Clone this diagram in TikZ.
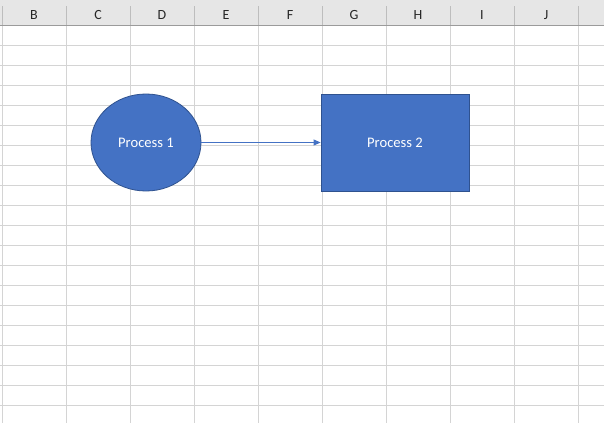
\documentclass[tikz,border=0pt]{standalone}
\usepackage{fontspec}
\setmainfont{Carlito}
\usetikzlibrary{arrows.meta,shapes.geometric}
\definecolor{gridc}{HTML}{D4D4D4}
\definecolor{hdrbg}{HTML}{E6E6E6}
\definecolor{hdrsep}{HTML}{BDBDBD}
\definecolor{hdrline}{HTML}{9B9B9B}
\definecolor{shapefill}{HTML}{4472C4}
\definecolor{shapeline}{HTML}{2F528F}
\tikzset{
  gridline/.style={draw=gridc, line width=1pt},
  hdrtext/.style={font=\fontsize{14}{16}\selectfont, text=black!85},
  procshape/.style={fill=shapefill, draw=shapeline, line width=0.8pt, text=white,
    font=\fontsize{14.6}{17}\selectfont, inner sep=0pt},
  conn/.style={draw=shapefill, line width=1pt, -{Triangle[length=7pt,width=6pt]}}
}
\begin{document}
\begin{tikzpicture}[x=1pt,y=-1pt]
\useasboundingbox (0,0) rectangle (604,423);
\fill[white] (0,0) rectangle (604,423);
% header
\fill[hdrbg] (0,0) rectangle (604,25);
% grid rows
\foreach \y in {45,65,...,405} \draw[gridline] (0,\y) -- (604,\y);
% grid columns
\foreach \x in {2,66,...,578} {
  \draw[gridline] (\x,25) -- (\x,423);
  \draw[draw=hdrsep, line width=1pt] (\x,6) -- (\x,25);
}
\draw[draw=hdrline, line width=1pt] (0,25) -- (604,25);
% column letters
\foreach \l [count=\i] in {B,C,D,E,F,G,H,I,J}
  \node[hdrtext] (col\l) at ({2+64*\i-32},15.5) {\l};
% shapes
\node[procshape, ellipse, minimum width=110pt, minimum height=97pt] (p1) at (146,142.5) {Process 1};
\node[procshape, rectangle, minimum width=148pt, minimum height=97pt] (p2) at (395,142.5) {Process 2};
\draw[conn] (p1.east) -- (p2.west);
\end{tikzpicture}
\end{document}
